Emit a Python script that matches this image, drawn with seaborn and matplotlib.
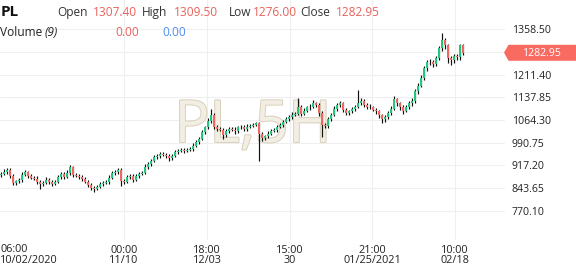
import numpy as np
import pandas as pd
import seaborn as sns
import matplotlib
matplotlib.use("Agg")
import matplotlib.pyplot as plt
from matplotlib.patches import Polygon
import matplotlib.patheffects as pe

# ---------------- data ----------------
symbol = "PL"
interval = "5H"
first_open = 885.0
closes = [
    890, 897, 903, 882, 860, 866, 870, 886, 896, 883,
    877, 874, 864, 857, 860, 870, 864, 857, 864, 880,
    890, 880, 893, 912, 886, 883, 880, 874, 864, 854,
    844, 841, 848, 857, 860, 864, 877, 893, 896, 903,
    867, 864, 880, 883, 870, 883, 890, 893, 912, 922,
    932, 945, 948, 955, 952, 948, 942, 948, 961, 965,
    968, 965, 968, 971, 981, 994, 1004, 1024, 1040, 1062,
    1082, 1043, 1036, 1033, 1014, 1030, 1036, 1033, 1027, 1040,
    1043, 1036, 1043, 1046, 1049, 1053, 1020, 1007, 1011, 1020,
    1030, 1033, 1043, 1049, 1059, 1069, 1075, 1082, 1085, 1108,
    1085, 1095, 1105, 1108, 1118, 1114, 1088, 1049, 1046, 1066,
    1082, 1101, 1114, 1118, 1098, 1088, 1092, 1101, 1108, 1121,
    1127, 1114, 1108, 1105, 1098, 1092, 1079, 1066, 1075, 1088,
    1101, 1131, 1118, 1105, 1095, 1108, 1118, 1127, 1157, 1176,
    1202, 1232, 1251, 1254, 1245, 1264, 1297, 1323, 1306, 1264,
    1258, 1271, 1268, 1307.40, 1282.95,
]
upper_wick = [
    5, 8, 6, 4, 7, 5, 6, 9, 5, 4,
    6, 5, 7, 4, 6, 8, 5, 4, 6, 7,
    5, 6, 8, 6, 4, 5, 7, 5, 6, 4,
    5, 6, 4, 7, 5, 6, 8, 6, 5, 7,
    4, 6, 5, 7, 6, 5, 4, 6, 8, 5,
    6, 7, 5, 6, 4, 5, 6, 7, 5, 6,
    5, 4, 6, 5, 7, 6, 5, 8, 6, 9,
    19, 6, 5, 7, 4, 6, 5, 6, 7, 5,
    6, 5, 7, 6, 5, 6, 4, 6, 5, 7,
    5, 6, 5, 7, 6, 5, 6, 7, 5, 29,
    6, 7, 5, 8, 10, 6, 5, 4, 6, 7,
    5, 8, 6, 7, 5, 6, 5, 7, 6, 39,
    8, 6, 5, 7, 6, 5, 6, 4, 7, 6,
    8, 10, 6, 5, 7, 6, 8, 7, 9, 8,
    7, 9, 8, 7, 6, 9, 8, 22, 7, 6,
    8, 7, 6, 5, 2.10,
]
lower_wick = [
    6, 5, 7, 5, 6, 8, 5, 6, 4, 7,
    5, 6, 8, 16, 6, 5, 7, 6, 5, 4,
    6, 7, 5, 6, 8, 5, 6, 7, 5, 8,
    6, 9, 5, 6, 7, 5, 6, 5, 7, 6,
    16, 6, 5, 7, 6, 5, 6, 4, 5, 6,
    7, 5, 6, 8, 5, 7, 12, 6, 5, 6,
    5, 7, 6, 5, 6, 5, 7, 6, 5, 6,
    6, 8, 7, 6, 10, 6, 7, 5, 8, 6,
    5, 7, 6, 5, 6, 5, 88, 12, 7, 6,
    5, 6, 7, 5, 6, 5, 7, 6, 5, 6,
    8, 6, 5, 7, 6, 9, 12, 41, 8, 7,
    6, 5, 7, 6, 9, 8, 6, 5, 7, 6,
    7, 6, 8, 5, 6, 7, 8, 12, 7, 6,
    6, 5, 8, 9, 10, 6, 7, 8, 6, 7,
    6, 7, 8, 9, 10, 7, 6, 8, 12, 15,
    14, 10, 9, 8, 6.95,
]
price_ticks = [770.10, 843.65, 917.20, 990.75, 1064.30, 1137.85, 1211.40, 1284.95, 1358.50]
hidden_price_tick = 1284.95  # covered by the last-price marker in the reference
time_tick_pos = [41, 68.67, 96.33, 123.67, 151.33]
time_tick_labels = ["00:00\n11/10", "18:00\n12/03", "15:00\n30", "21:00\n01/25/2021", "10:00\n02/18"]
first_time_label = "06:00\n10/02/2020"
volume_period = 9
volume_values = [0.00, 0.00]

# ---------------- derived table ----------------
opens = [first_open] + closes[:-1]
df = pd.DataFrame({"open": opens, "close": closes,
                   "uw": upper_wick, "lw": lower_wick})
df["idx"] = np.arange(len(df))
df["top"] = df[["open", "close"]].max(axis=1)
df["bot"] = df[["open", "close"]].min(axis=1)
df["high"] = df["top"] + df["uw"]
df["low"] = df["bot"] - df["lw"]
df["up"] = df["close"] >= df["open"]

# ---------------- style ----------------
sns.set_theme(style="white")
plt.rcParams["font.family"] = ["Open Sans", "DejaVu Sans"]

UP = "#22c67e"
DOWN = "#f2675d"
RED_TXT = "#e9615a"
BLUE_TXT = "#4f8ff0"
W, H = 576, 268

fig = plt.figure(figsize=(W / 100, H / 100), dpi=100)
ax = fig.add_axes([0, 28 / H, 505 / W, 240 / H])

def fx(px):
    return px / W

def fy(py):
    return 1 - py / H

# y scale: 1358.50 at pixel 29.3, 22.67 px per 73.55
ppp = 73.55 / 22.67
ytop = 1358.5 + 29.3 * ppp
ybot = 1358.5 - (240 - 29.3) * ppp
ax.set_ylim(ybot, ytop)
ax.set_xlim(-1 / 3, 504 / 3)

ax.set_axisbelow(True)
ax.grid(True, color="#efefef", linewidth=0.8)
for s in ax.spines.values():
    s.set_visible(False)

# watermark
ax.text(fx(253), fy(142), f"{symbol},{interval}", transform=fig.transFigure,
        fontsize=42, ha="center", va="baseline", color="#f2eee4", zorder=1,
        path_effects=[pe.withStroke(linewidth=1.4, foreground="#d9d0bc")])

# candles
ax.vlines(df["idx"], df["low"], df["high"], color="#111111", linewidth=0.85, zorder=2)
body = (df["top"] - df["bot"]).clip(lower=1.2)
colors = np.where(df["up"], UP, DOWN)
ax.bar(df["idx"], body, bottom=df["bot"], width=0.75, color=colors,
       linewidth=0, zorder=3)

# y axis on right
ax.yaxis.tick_right()
ax.set_yticks(price_ticks)
ax.set_yticklabels(["" if v == hidden_price_tick else f"{v:.2f}" for v in price_ticks])
ax.tick_params(axis="y", length=0, pad=5, labelsize=7.6, labelcolor="#222222")

# x axis
ax.set_xticks(time_tick_pos)
ax.set_xticklabels(time_tick_labels)
ax.tick_params(axis="x", length=0, pad=3.5, labelsize=7.8, labelcolor="#222222")
for t in ax.get_xticklabels():
    t.set_linespacing(0.95)
fig.text(fx(0.3), fy(244), first_time_label, ha="left", va="top",
         fontsize=7.8, color="#222222", linespacing=0.95)

# last price box
last = closes[-1]
ylast = 29.3 + (1358.5 - last) / ppp
box_c = "#f96b61"
pts = [(504, ylast), (508.5, ylast - 7.8), (576, ylast - 7.8), (576, ylast + 8.2), (508.5, ylast + 8.2)]
poly = Polygon([(fx(x), fy(y)) for x, y in pts], closed=True, transform=fig.transFigure,
               facecolor=box_c, edgecolor="none", zorder=10)
fig.patches.append(poly)
fig.text(fx(541), fy(ylast + 0.5), f"{last:.2f}", ha="center", va="center",
         fontsize=7.6, color="white", zorder=11)

# header
o, h, l, c = opens[-1], df["high"].iloc[-1], df["low"].iloc[-1], closes[-1]
fig.text(fx(0.5), fy(12), symbol, fontsize=11, fontweight="bold", color="#111111", va="center")
items = [("Open", 57, o, 93), ("High", 142, h, 174), ("Low", 229, l, 253), ("Close", 300, c, 336)]
for lab, lx, val, vx in items:
    fig.text(fx(lx), fy(12.5), lab, fontsize=8.6, color="#333333", va="center")
    fig.text(fx(vx), fy(12.5), f"{val:.2f}", fontsize=8.6, color=RED_TXT, va="center")
fig.text(fx(0.3), fy(33), "Volume", fontsize=8.6, color="#222222", va="center")
fig.text(fx(45), fy(33), f"({volume_period})", fontsize=8.6, color="#222222",
         va="center", style="italic")
fig.text(fx(115), fy(33), f"{volume_values[0]:.2f}", fontsize=8.6, color=RED_TXT, va="center")
fig.text(fx(162), fy(33), f"{volume_values[1]:.2f}", fontsize=8.6, color=BLUE_TXT, va="center")

fig.savefig("out.png", dpi=100)
